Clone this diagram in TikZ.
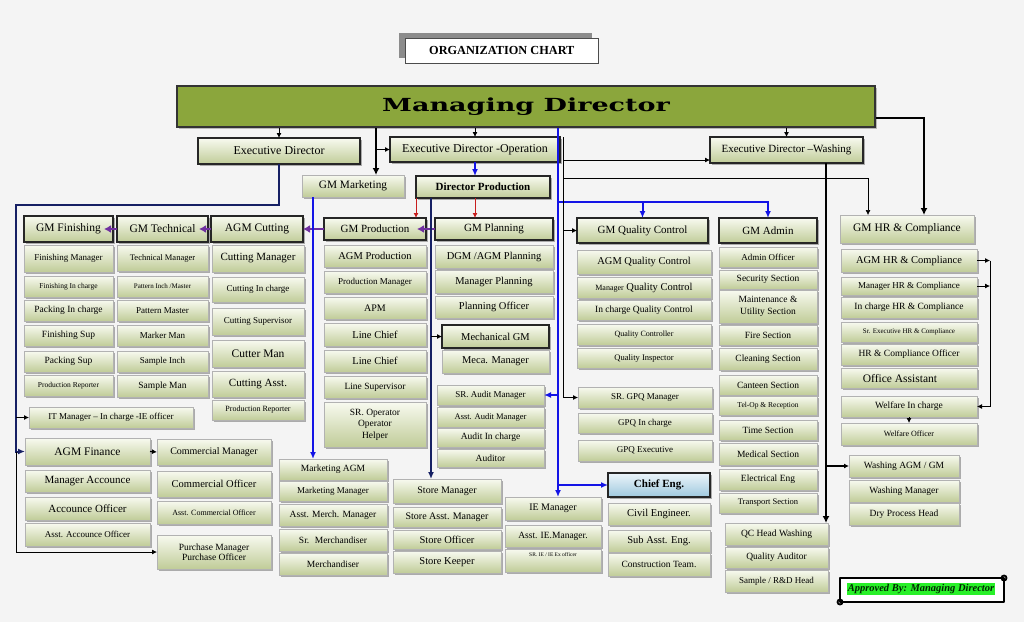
\documentclass[tikz,border=0pt]{standalone}
\usepackage{fontspec}
\usepackage{graphicx}
\setmainfont{Liberation Serif}
\newfontfamily\mdfont{DejaVu Serif}
\usetikzlibrary{arrows.meta,shadows}
\newcommand{\fz}[1]{\fontsize{#1}{#1}\selectfont}
\definecolor{bgpage}{RGB}{244,244,244}
\definecolor{boxtop}{RGB}{248,250,240}
\definecolor{boxbot}{RGB}{192,204,152}
\definecolor{mdgreen}{RGB}{139,166,60}
\definecolor{navyline}{RGB}{22,32,100}
\definecolor{blueline}{RGB}{20,20,230}
\definecolor{purpline}{RGB}{112,48,160}
\definecolor{redline}{RGB}{200,30,30}
\definecolor{chieftop}{RGB}{236,245,250}
\definecolor{chiefbot}{RGB}{158,200,222}
\definecolor{apgreen}{RGB}{40,240,40}
\tikzset{
  box/.style={draw=black!30, line width=0.5pt, top color=boxtop, bottom color=boxbot,
    anchor=north west, inner sep=0pt, outer sep=0pt, align=center,
    drop shadow={shadow xshift=1.5pt, shadow yshift=-1.5pt, fill=black!40, opacity=.8}},
  head/.style={box, draw=black!85, line width=1.2pt},
  arr/.style={-{Latex[length=5pt,width=5pt]}, line width=0.8pt},
  bigarr/.style={-{Latex[length=7pt,width=7pt]}, line width=2.2pt},
  navyarr/.style={-{Latex[length=7pt,width=6pt]}, line width=2pt, color=navyline},
  bluearr/.style={-{Latex[length=7pt,width=6pt]}, line width=2pt, color=blueline},
  purparr/.style={-{Latex[length=7pt,width=8pt]}, line width=2pt, color=purpline, shorten >=-9pt},
  redarr/.style={-{Latex[length=5pt,width=5pt]}, line width=0.9pt, color=redline}
}
\begin{document}
\begin{tikzpicture}[x=1pt,y=-1pt]
\fill[bgpage] (0,0) rectangle (1024,622);
\useasboundingbox (0,0) rectangle (1024,622);

%% title and top
\fill[black!45] (399,33) rectangle (592,58);
\node[draw=black!70, fill=white, line width=0.6pt, anchor=north west, minimum width=193, minimum height=25, inner sep=0pt, font=\fz{12.3}\bfseries] (title) at (405,38) {ORGANIZATION CHART};
\node[draw=black!80, line width=2pt, fill=mdgreen, anchor=north west, minimum width=698, minimum height=41, inner sep=0pt,
  drop shadow={shadow xshift=2pt, shadow yshift=-2pt, fill=black!50}, font=\mdfont\bfseries\fz{18}] (md) at (176,85) {\scalebox{1.5}[1]{Managing Director}};

\node[head, minimum width=162, minimum height=26, font=\fz{12}] (ed) at (198,138) {Executive Director};
\node[head, minimum width=170, minimum height=25, font=\fz{12}] (edo) at (390,137) {Executive Director -Operation};
\node[head, minimum width=153, minimum height=26, font=\fz{11}] (edw) at (710,137) {Executive Director –Washing};
\node[box, minimum width=102, minimum height=22, font=\fz{11.3}] (gmm) at (302,175) {GM Marketing};
\node[head, minimum width=134, minimum height=22, font=\fz{11}\bfseries] (dp) at (416,176) {Director Production};

%% GM row
\node[head, minimum width=89, minimum height=26, font=\fz{11.5}] (gmf) at (24,216) {GM Finishing};
\node[head, minimum width=91, minimum height=26, font=\fz{11.5}] (gmt) at (117,216) {GM Technical};
\node[head, minimum width=92, minimum height=26, font=\fz{11.5}] (agmc) at (211,216) {AGM Cutting};
\node[head, minimum width=102, minimum height=22, font=\fz{11}] (gmp) at (324,218) {GM Production};
\node[head, minimum width=118, minimum height=22, font=\fz{11}] (gmpl) at (435,218) {GM Planning};
\node[head, minimum width=131, minimum height=25, font=\fz{11}] (gmq) at (577,218) {GM Quality Control};
\node[head, minimum width=98, minimum height=25, font=\fz{11}] (gma) at (719,218) {GM Admin};
\node[box, minimum width=134, minimum height=28, font=\fz{11.5}] (gmh) at (840,215) {GM HR \& Compliance};

%% finishing
\begin{scope}[every node/.append style={minimum width=89}]
\node[box, minimum height=27, font=\fz{9}] (f1) at (24,245) {Finishing Manager};
\node[box, minimum height=21, font=\fz{7.5}] (f2) at (24,276) {Finishing In charge};
\node[box, minimum height=21, font=\fz{9.5}] (f3) at (24,300) {Packing In charge};
\node[box, minimum height=21, font=\fz{9.5}] (f4) at (24,325) {Finishing Sup};
\node[box, minimum height=21, font=\fz{9.5}] (f5) at (24,351) {Packing Sup};
\node[box, minimum height=21, font=\fz{7.5}] (f6) at (24,375) {Production Reporter};
\end{scope}
%% technical
\begin{scope}[every node/.append style={minimum width=91}]
\node[box, minimum height=26, font=\fz{8.5}] (t1) at (117,245) {Technical Manager};
\node[box, minimum height=21, font=\fz{7}] (t2) at (117,276) {Pattern Inch /Master};
\node[box, minimum height=21, font=\fz{9}] (t3) at (117,300) {Pattern Master};
\node[box, minimum height=21, font=\fz{9}] (t4) at (117,325) {Marker Man};
\node[box, minimum height=21, font=\fz{9}] (t5) at (117,351) {Sample Inch};
\node[box, minimum height=22, font=\fz{9.5}] (t6) at (117,375) {Sample Man};
\end{scope}
%% cutting
\begin{scope}[every node/.append style={minimum width=92}]
\node[box, minimum height=27, font=\fz{11}] (c1) at (212,245) {Cutting Manager};
\node[box, minimum height=25, font=\fz{9}] (c2) at (212,277) {Cutting In charge};
\node[box, minimum height=27, font=\fz{9}] (c3) at (212,308) {Cutting Supervisor};
\node[box, minimum height=27, font=\fz{11.5}] (c4) at (212,340) {Cutter Man};
\node[box, minimum height=26, font=\fz{11}] (c5) at (212,371) {Cutting Asst.};
\node[box, minimum height=20, font=\fz{8}] (c6) at (212,400) {Production Reporter};
\end{scope}
\node[box, minimum width=164, minimum height=21, font=\fz{9}] (itm) at (29,407) {IT Manager – In charge -IE officer};

%% finance and commercial
\begin{scope}[every node/.append style={minimum width=125}]
\node[box, minimum height=27, font=\fz{11.5}] (fin1) at (25,438) {AGM Finance};
\node[box, minimum height=22, font=\fz{11}] (fin2) at (25,470) {Manager Accounce};
\node[box, minimum height=23, font=\fz{11}] (fin3) at (25,497) {Accounce Officer};
\node[box, minimum height=23, font=\fz{9}] (fin4) at (25,523) {Asst. Accounce Officer};
\end{scope}
\begin{scope}[every node/.append style={minimum width=114}]
\node[box, minimum height=26, font=\fz{10}] (com1) at (157,439) {Commercial Manager};
\node[box, minimum height=26, font=\fz{10.5}] (com2) at (157,471) {Commercial Officer};
\node[box, minimum height=23, font=\fz{8}] (com3) at (157,501) {Asst. Commercial Officer};
\node[box, minimum height=34, font=\fz{9.5}] (com4) at (157,535) {Purchase Manager\\[1pt]Purchase Officer};
\end{scope}

%% production and marketing
\begin{scope}[every node/.append style={minimum width=102}]
\node[box, minimum height=22, font=\fz{10.5}] (p1) at (324,245) {AGM Production};
\node[box, minimum height=22, font=\fz{9}] (p2) at (324,271) {Production Manager};
\node[box, minimum height=22, font=\fz{10}] (p3) at (324,297) {APM};
\node[box, minimum height=23, font=\fz{10.5}] (p4) at (324,323) {Line Chief};
\node[box, minimum height=22, font=\fz{10.5}] (p5) at (324,350) {Line Chief};
\node[box, minimum height=22, font=\fz{9.5}] (p6) at (324,376) {Line Supervisor};
\node[box, minimum height=45, font=\fz{9.5}] (p7) at (324,402) {SR. Operator\\[2pt]Operator\\[2pt]Helper};
\end{scope}
\begin{scope}[every node/.append style={minimum width=108}]
\node[box, minimum height=21, font=\fz{9.5}] (mk1) at (279,459) {Marketing AGM};
\node[box, minimum height=20, font=\fz{9}] (mk2) at (279,481) {Marketing Manager};
\node[box, minimum height=22, font=\fz{9.5}] (mk3) at (279,504) {Asst. Merch. Manager};
\node[box, minimum height=22, font=\fz{9.5}] (mk4) at (279,529) {Sr.~ Merchandiser};
\node[box, minimum height=22, font=\fz{9.5}] (mk5) at (279,553) {Merchandiser};
\end{scope}

%% planning, mechanical, audit
\begin{scope}[every node/.append style={minimum width=118}]
\node[box, minimum height=23, font=\fz{10.5}] (pl1) at (435,245) {DGM /AGM Planning};
\node[box, minimum height=23, font=\fz{10.5}] (pl2) at (435,270) {Manager Planning};
\node[box, minimum height=22, font=\fz{10.5}] (pl3) at (435,296) {Planning Officer};
\end{scope}
\node[head, minimum width=107, minimum height=23, font=\fz{10.5}] (mech) at (442,325) {Mechanical GM};
\node[box, minimum width=107, minimum height=23, font=\fz{10.5}] (meca) at (442,350) {Meca. Manager};
\begin{scope}[every node/.append style={minimum width=107}]
\node[box, minimum height=20, font=\fz{9}] (au1) at (437,385) {SR. Audit Manager};
\node[box, minimum height=20, font=\fz{8.5}] (au2) at (437,407) {Asst. Audit Manager};
\node[box, minimum height=19, font=\fz{9.5}] (au3) at (437,428) {Audit In charge};
\node[box, minimum height=18, font=\fz{9.5}] (au4) at (437,449) {Auditor};
\end{scope}

%% store and IE
\begin{scope}[every node/.append style={minimum width=108}]
\node[box, minimum height=24, font=\fz{10}] (st1) at (393,479) {Store Manager};
\node[box, minimum height=20, font=\fz{10}] (st2) at (393,507) {Store Asst. Manager};
\node[box, minimum height=19, font=\fz{10.5}] (st3) at (393,530) {Store Officer};
\node[box, minimum height=22, font=\fz{10.5}] (st4) at (393,551) {Store Keeper};
\end{scope}
\begin{scope}[every node/.append style={minimum width=96}]
\node[box, minimum height=23, font=\fz{10}] (ie1) at (505,497) {IE Manager};
\node[box, minimum height=22, font=\fz{9.5}] (ie2) at (505,525) {Asst. IE.Manager.};
\node[box, minimum height=23, font=\fz{5.5}] (ie3) at (505,549) {SR. IE / IE Ex officer\\[6pt]};
\end{scope}

%% quality control, gpq, chief eng
\begin{scope}[every node/.append style={minimum width=134}]
\node[box, minimum height=24, font=\fz{10.5}] (q1) at (577,250) {AGM Quality Control};
\node[box, minimum height=21, font=\fz{10.5}] (q2) at (577,277) {{\fz{8}Manager} Quality Control};
\node[box, minimum height=20, font=\fz{9.5}] (q3) at (577,300) {In charge Quality Control};
\node[box, minimum height=21, font=\fz{8}] (q4) at (577,324) {Quality Controller};
\node[box, minimum height=20, font=\fz{8.5}] (q5) at (577,348) {Quality Inspector};
\node[box, minimum height=21, font=\fz{9}] (gpq1) at (578,387) {SR. GPQ Manager};
\node[box, minimum height=20, font=\fz{9}] (gpq2) at (578,413) {GPQ In charge};
\node[box, minimum height=21, font=\fz{9}] (gpq3) at (578,440) {GPQ Executive};
\end{scope}
\begin{scope}[every node/.append style={minimum width=102}]
\node[head, top color=chieftop, bottom color=chiefbot, minimum height=24, font=\fz{11}\bfseries] (ce) at (608,473) {Chief Eng.};
\node[box, minimum height=22, font=\fz{10.5}] (ce1) at (608,503) {Civil Engineer.};
\node[box, minimum height=22, font=\fz{10.5}] (ce2) at (608,530) {Sub Asst. Eng.};
\node[box, minimum height=23, font=\fz{9.5}] (ce3) at (608,553) {Construction Team.};
\end{scope}

%% admin and washing qc
\begin{scope}[every node/.append style={minimum width=98}]
\node[box, minimum height=20, font=\fz{9}] (ad1) at (719,247) {Admin Officer};
\node[box, minimum height=19, font=\fz{9.5}] (ad2) at (719,270) {Security Section};
\node[box, minimum height=33, font=\fz{9.5}] (ad3) at (719,290) {Maintenance \&\\[2pt]Utility Section};
\node[box, minimum height=20, font=\fz{9.5}] (ad4) at (719,325) {Fire Section};
\node[box, minimum height=22, font=\fz{9.5}] (ad5) at (719,348) {Cleaning Section};
\node[box, minimum height=20, font=\fz{9.5}] (ad6) at (719,375) {Canteen Section};
\node[box, minimum height=19, font=\fz{7.5}] (ad7) at (719,396) {Tel-Op \& Reception};
\node[box, minimum height=20, font=\fz{9.5}] (ad8) at (719,420) {Time Section};
\node[box, minimum height=22, font=\fz{9.5}] (ad9) at (719,443) {Medical Section};
\node[box, minimum height=21, font=\fz{9.5}] (ad10) at (719,469) {Electrical Eng};
\node[box, minimum height=20, font=\fz{8.5}] (ad11) at (719,493) {Transport Section};
\end{scope}
\begin{scope}[every node/.append style={minimum width=103}]
\node[box, minimum height=22, font=\fz{9.5}] (wq1) at (725,523) {QC Head Washing};
\node[box, minimum height=21, font=\fz{9.5}] (wq2) at (725,547) {Quality Auditor};
\node[box, minimum height=22, font=\fz{9}] (wq3) at (725,570) {Sample / R\&D Head};
\end{scope}

%% hr and washing
\begin{scope}[every node/.append style={minimum width=136}]
\node[box, minimum height=23, font=\fz{10.5}] (hr1) at (841,249) {AGM HR \& Compliance};
\node[box, minimum height=18, font=\fz{9}] (hr2) at (841,277) {Manager HR \& Compliance};
\node[box, minimum height=21, font=\fz{9.5}] (hr3) at (841,297) {In charge HR \& Compliance};
\node[box, minimum height=20, font=\fz{7}] (hr4) at (841,322) {Sr. Executive HR \& Compliance};
\node[box, minimum height=21, font=\fz{9.5}] (hr5) at (841,344) {HR \& Compliance Officer};
\node[box, minimum height=20, font=\fz{11.5}] (hr6) at (841,368) {Office Assistant\hspace*{18pt}};
\node[box, minimum height=21, font=\fz{9.5}] (hr7) at (841,396) {Welfare In charge};
\node[box, minimum height=22, font=\fz{8}] (hr8) at (841,423) {Welfare Officer};
\end{scope}
\begin{scope}[every node/.append style={minimum width=110}]
\node[box, minimum height=22, font=\fz{9.5}] (wa1) at (849,455) {Washing AGM / GM};
\node[box, minimum height=22, font=\fz{9.5}] (wa2) at (849,480) {Washing Manager};
\node[box, minimum height=22, font=\fz{9.5}] (wa3) at (849,503) {Dry Process Head};
\end{scope}

%% approval scroll
\draw[line width=2.4pt, line join=round, fill=white] (840,578) -- (1004,578) -- (1004,602) -- (840,602) -- cycle;
\draw[line width=1.8pt] (1004,578) circle (2.5pt);
\draw[line width=1.8pt] (840,602) circle (2.5pt);
\node[fill=apgreen, inner sep=1pt, font=\fz{10.5}\bfseries\itshape, text=black!85!green] (appr) at (921,589) {Approved By: Managing Director};

%% line positions
\coordinate (xmk) at (376,0);
\coordinate (hrk) at (924,118);
\coordinate (xlt) at (16,205);
\coordinate (xgm) at (313,0);
\coordinate (xdp) at (431,0);
\coordinate (bt) at (558,202);
\coordinate (ot) at (563,137);
\coordinate (ow) at (563,160);
\coordinate (oh) at (563,178);
\coordinate (hrin) at (868,0);
\coordinate (xwa) at (826,0);
\coordinate (xbr) at (990,0);

%% from managing director
\draw[arr] (md.south -| ed.north) -- (ed.north);
\draw[arr] (md.south -| edo.north) -- (edo.north);
\draw[arr] (md.south -| edw.north) -- (edw.north);
\draw[bigarr] (md.south -| xmk) -- (gmm.north -| xmk);
\draw[arr] (xmk |- edo.west) -- (edo.west);
\draw[bigarr] (md.east |- hrk) -- (hrk) -- (gmh.north -| hrk);
\draw[bluearr] (md.south -| bt) -- (ie1.north -| bt);
\draw[bluearr] (bt) -| (gma.north);
\draw[bluearr] (bt -| gmq.north) -- (gmq.north);
\draw[bluearr] (bt |- au1.east) -- (au1.east);
\draw[bluearr] (bt |- ce.west) -- (ce.west);

%% operation
\draw[bluearr] (edo.south) -- (edo.south |- dp.north);
\draw[redarr] (dp.south west) -- (dp.south west |- gmp.north);
\draw[redarr] (dp.south -| edo.south) -- (gmpl.north -| edo.south);
\draw[purparr] (gmpl.west) -- (gmp.east);
\draw[purparr, shorten >=0pt] (gmp.west) -- (agmc.east);
\draw[purparr] (agmc.west) -- (gmt.east);
\draw[purparr] (gmt.west) -- (gmf.east);
\draw[navyarr] (dp.south -| xdp) -- (st1.north -| xdp);
\draw[arr] (xdp |- mech.west) -- (mech.west);
\draw[arr] (ot) |- (gpq1.west);
\draw[arr] (ot |- gmq.west) -- (gmq.west);
\draw[arr] (ow) -- (ow -| edw.west);
\draw[arr, line width=0.6pt] (oh) -| (gmh.north -| hrin);

%% executive director
\draw[navyarr] (ed.south) |- (xlt) -- (xlt |- fin1.west) -- (fin1.west);
\draw[arr] (xlt |- itm.west) -- (itm.west);
\draw[arr] (xlt |- fin1.west) |- (com4.west);
\draw[arr, line width=1.2pt] (fin1.east) -- (com1.west);
\draw[bluearr] (gmm.south -| xgm) -- (mk1.north -| xgm);

%% washing and hr
\draw[bigarr] (edw.south -| xwa) -- (wq1.north -| xwa);
\draw[arr, line width=1.6pt] (xwa |- wa1.west) -- (wa1.west);
\draw[arr] (hr1.east) -- (hr1.east -| xbr);
\draw[arr] (hr2.east) -- (hr2.east -| xbr);
\draw[arr] (hr1.east -| xbr) |- (hr7.east);
\draw[arr] (hr7.south) -- (hr8.north);
\end{tikzpicture}
\end{document}
